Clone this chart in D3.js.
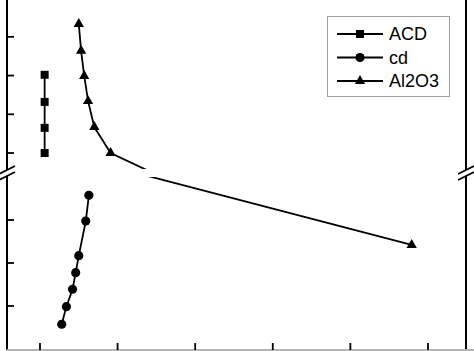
<!DOCTYPE html>
<html>
<head>
<meta charset="utf-8">
<script src="https://cdn.jsdelivr.net/npm/d3@7"></script>
<style>
  html, body { margin: 0; padding: 0; background: #fff; }
  svg { display: block; }
</style>
</head>
<body>
<svg id="chart"></svg>
<script>
// Unlabelled axes in the source; values are in arbitrary units
const xTicks = [1, 2, 3, 4, 5, 6];
const upperTicks = [9.5, 10.5, 11.5, 12.5, 13.5];
const lowerTicks = [3, 5, 7];

const acdX = [1.06, 1.06, 1.06, 1.06];
const acdY = [11.52, 10.82, 10.15, 9.5];

const cdX = [1.63, 1.59, 1.5, 1.46, 1.42, 1.34, 1.28];
const cdY = [8.15, 6.95, 5.34, 4.55, 3.78, 2.97, 2.15];

const alX = [1.5, 1.53, 1.57, 1.62, 1.7, 1.91, 5.79];
const alY = [12.83, 12.14, 11.49, 10.84, 10.17, 9.5, 5.84];

const seriesNames = ["ACD", "cd", "Al2O3"];

const W = 474, H = 351;
const left = 7, right = 466, bottom = 350;
const upperBottom = 169, lowerTop = 177;

const svg = d3.select("#chart").attr("width", W).attr("height", H);

const x = d3.scaleLinear().domain([0.575, 6.49]).range([left, right]);
// two y segments with different scales (broken axis)
const yUp = d3.scaleLinear().domain([9.087, 13.71]).range([upperBottom, -10]);
const yLow = d3.scaleLinear().domain([1, 9]).range([349, lowerTop]);

const defs = svg.append("defs");
defs.append("clipPath").attr("id", "clipUp")
  .append("rect").attr("x", left).attr("y", -20)
  .attr("width", right - left).attr("height", upperBottom + 20);
defs.append("clipPath").attr("id", "clipLow")
  .append("rect").attr("x", left).attr("y", lowerTop)
  .attr("width", right - left).attr("height", bottom - lowerTop);

const FONT = "'Liberation Sans', Arial, sans-serif";
const LW = 1.8;

const symSquare = d3.symbol().type(d3.symbolSquare).size(64);
const symCircle = d3.symbol().type(d3.symbolCircle).size(66);
const symTri = d3.symbol().type(d3.symbolTriangle).size(46);

// which segment each point belongs to
const acd = acdX.map((v, i) => ({ x: v, y: acdY[i], seg: "up" }));
const cd = cdX.map((v, i) => ({ x: v, y: cdY[i], seg: "low" }));
const al = alX.map((v, i) => ({ x: v, y: alY[i], seg: i < 6 ? "up" : "low" }));

// draw line + markers in each segment; the line is drawn with that segment's
// scale and clipped, so a line crossing the break looks like the Origin plot
function drawSeries(pts, sym) {
  const segs = [...new Set(pts.map((d) => d.seg))];
  segs.forEach((seg) => {
    const ys = seg === "up" ? yUp : yLow;
    const g = svg.append("g").attr("clip-path", `url(#clip${seg === "up" ? "Up" : "Low"})`);
    g.append("path")
      .datum(pts)
      .attr("fill", "none")
      .attr("stroke", "#000")
      .attr("stroke-width", LW)
      .attr("d", d3.line().x((d) => x(d.x)).y((d) => ys(d.y)));
    g.selectAll(null)
      .data(pts.filter((d) => d.seg === seg))
      .join("path")
      .attr("transform", (d) => `translate(${x(d.x)},${ys(d.y)})`)
      .attr("d", sym)
      .attr("fill", "#000");
  });
}

drawSeries(acd, symSquare);
drawSeries(cd, symCircle);
drawSeries(al, symTri);

// Axes
const axisG = svg.append("g");
axisG.append("line").attr("x1", left).attr("x2", left).attr("y1", -5).attr("y2", bottom)
  .attr("stroke", "#000").attr("stroke-width", 2);
axisG.append("line").attr("x1", right).attr("x2", right).attr("y1", -5).attr("y2", bottom)
  .attr("stroke", "#000").attr("stroke-width", 2);
axisG.append("line").attr("x1", left).attr("x2", W).attr("y1", 350).attr("y2", 350)
  .attr("stroke", "#b4b4b4").attr("stroke-width", 2);

// y ticks (inward)
axisG.selectAll(null)
  .data(upperTicks)
  .join("line")
  .attr("x1", left).attr("x2", left + 7)
  .attr("y1", (d) => yUp(d)).attr("y2", (d) => yUp(d))
  .attr("stroke", "#000").attr("stroke-width", LW);
axisG.selectAll(null)
  .data(lowerTicks)
  .join("line")
  .attr("x1", left).attr("x2", left + 7)
  .attr("y1", (d) => yLow(d)).attr("y2", (d) => yLow(d))
  .attr("stroke", "#000").attr("stroke-width", LW);

// x ticks (inward)
axisG.selectAll(null)
  .data(xTicks)
  .join("line")
  .attr("x1", (d) => x(d)).attr("x2", (d) => x(d))
  .attr("y1", bottom - 7).attr("y2", bottom)
  .attr("stroke", "#000").attr("stroke-width", LW);

// Break marks on both y axes
function breakMark(cx) {
  const cy = (upperBottom + lowerTop) / 2;
  const g = svg.append("g").attr("transform", `translate(${cx},${cy})`);
  g.append("polygon")
    .attr("points", "-8,1 8,-7 8,-1 -8,7")
    .attr("fill", "#fff");
  g.append("line").attr("x1", -8).attr("y1", 1).attr("x2", 8).attr("y2", -7)
    .attr("stroke", "#000").attr("stroke-width", LW);
  g.append("line").attr("x1", -8).attr("y1", 7).attr("x2", 8).attr("y2", -1)
    .attr("stroke", "#000").attr("stroke-width", LW);
}
breakMark(left);
breakMark(right);

// Legend
const legend = svg.append("g");
legend.append("rect")
  .attr("x", 327.5).attr("y", 16.5).attr("width", 122).attr("height", 80)
  .attr("fill", "#fff").attr("stroke", "#a0a0a0").attr("stroke-width", 1);
const legendSyms = [symSquare, symCircle, symTri];
seriesNames.forEach((name, i) => {
  const ly = 34 + i * 23.5;
  legend.append("line").attr("x1", 337).attr("x2", 383).attr("y1", ly).attr("y2", ly)
    .attr("stroke", "#000").attr("stroke-width", LW);
  legend.append("path").attr("transform", `translate(360,${ly})`)
    .attr("d", legendSyms[i]).attr("fill", "#000");
  legend.append("text")
    .attr("x", 389).attr("y", ly).attr("dy", "0.36em")
    .attr("font-family", FONT).attr("font-size", 18).attr("fill", "#000")
    .text(name);
});
</script>
</body>
</html>
